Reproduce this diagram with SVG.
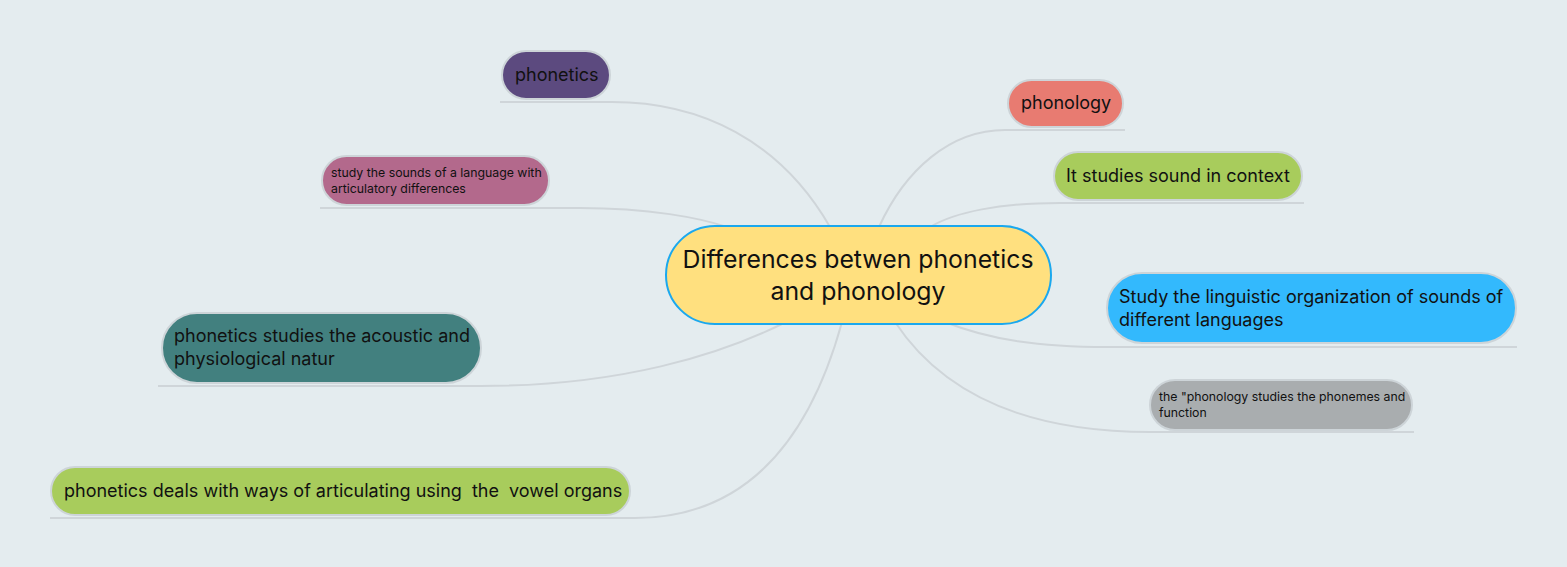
<svg xmlns="http://www.w3.org/2000/svg" width="1567" height="567" viewBox="0 0 1567 567">
<style>
.bg{fill:#E4ECEF}
.node{stroke:#CDD4D8;stroke-width:2}
.t{font-family:Inter,"Noto Sans","Liberation Sans",sans-serif;fill:#111;white-space:pre}
.l{font-size:18px}
.s{font-size:12.3px}
.c{font-size:24.8px;text-anchor:middle}
.conn{fill:none;stroke:#CFD5D9;stroke-width:2}
</style>
<rect class="bg" x="0" y="0" width="1567" height="567"/>
<g id="connectors">
  <path class="conn" d="M500,102 L612,102 C700,102 780,140 830,227"/>
  <path class="conn" d="M320,208 L580,208 C650,208 700,218 727,227"/>
  <path class="conn" d="M158,386 L481,386 C620,386 720,355 786,322"/>
  <path class="conn" d="M50,518 L635,518 C760,518 815,420 842,322"/>
  <path class="conn" d="M1125,130 L1005,130 C950,130 905,170 879,227"/>
  <path class="conn" d="M1304,203 L1060,203 C1000,203 955,212 930,227"/>
  <path class="conn" d="M1517,347 L1107,347 C1040,347 990,340 945,322"/>
  <path class="conn" d="M1414,432 L1150,432 C1020,432 940,390 895,322"/>
</g>
<g id="central">
  <rect x="666" y="226" width="385" height="98" rx="49" fill="#FFE07F" stroke="#1BA8EE" stroke-width="2"/>
  <text class="t c" x="858" y="268">Differences betwen phonetics</text>
  <text class="t c" x="858" y="300">and phonology</text>
</g>
<g id="n-phonetics">
  <rect class="node" x="502" y="51" width="108" height="48" rx="24" fill="#5C4A7F"/>
  <text class="t l" x="515" y="81">phonetics</text>
</g>
<g id="n-study-sounds">
  <rect class="node" x="322" y="156" width="227" height="49" rx="24.5" fill="#B3698C"/>
  <text class="t s" x="331" y="177">study the sounds of a language with</text>
  <text class="t s" x="331" y="193">articulatory differences</text>
</g>
<g id="n-acoustic">
  <rect class="node" x="162" y="313" width="319" height="70" rx="35" fill="#42807F"/>
  <text class="t l" x="174" y="342">phonetics studies the acoustic and</text>
  <text class="t l" x="174" y="365">physiological natur</text>
</g>
<g id="n-vowel">
  <rect class="node" x="51" y="467" width="579" height="48" rx="24" fill="#A8CC5C"/>
  <text class="t l" x="64" y="497">phonetics deals with ways of articulating using  the  vowel organs</text>
</g>
<g id="n-phonology">
  <rect class="node" x="1008" y="80" width="115" height="47" rx="23.5" fill="#E87B71"/>
  <text class="t l" x="1021" y="109">phonology</text>
</g>
<g id="n-context">
  <rect class="node" x="1054" y="152" width="248" height="48" rx="24" fill="#A8CC5C"/>
  <text class="t l" x="1066" y="182">It studies sound in context</text>
</g>
<g id="n-linguistic">
  <rect class="node" x="1107" y="273" width="409" height="70" rx="35" fill="#33B9FD"/>
  <text class="t l" x="1119" y="303">Study the linguistic organization of sounds of</text>
  <text class="t l" x="1119" y="326">different languages</text>
</g>
<g id="n-phonemes">
  <rect class="node" x="1150" y="380" width="262" height="50" rx="25" fill="#A9ADAF"/>
  <text class="t s" x="1159" y="401">the "phonology studies the phonemes and</text>
  <text class="t s" x="1159" y="417">function</text>
</g>
</svg>
